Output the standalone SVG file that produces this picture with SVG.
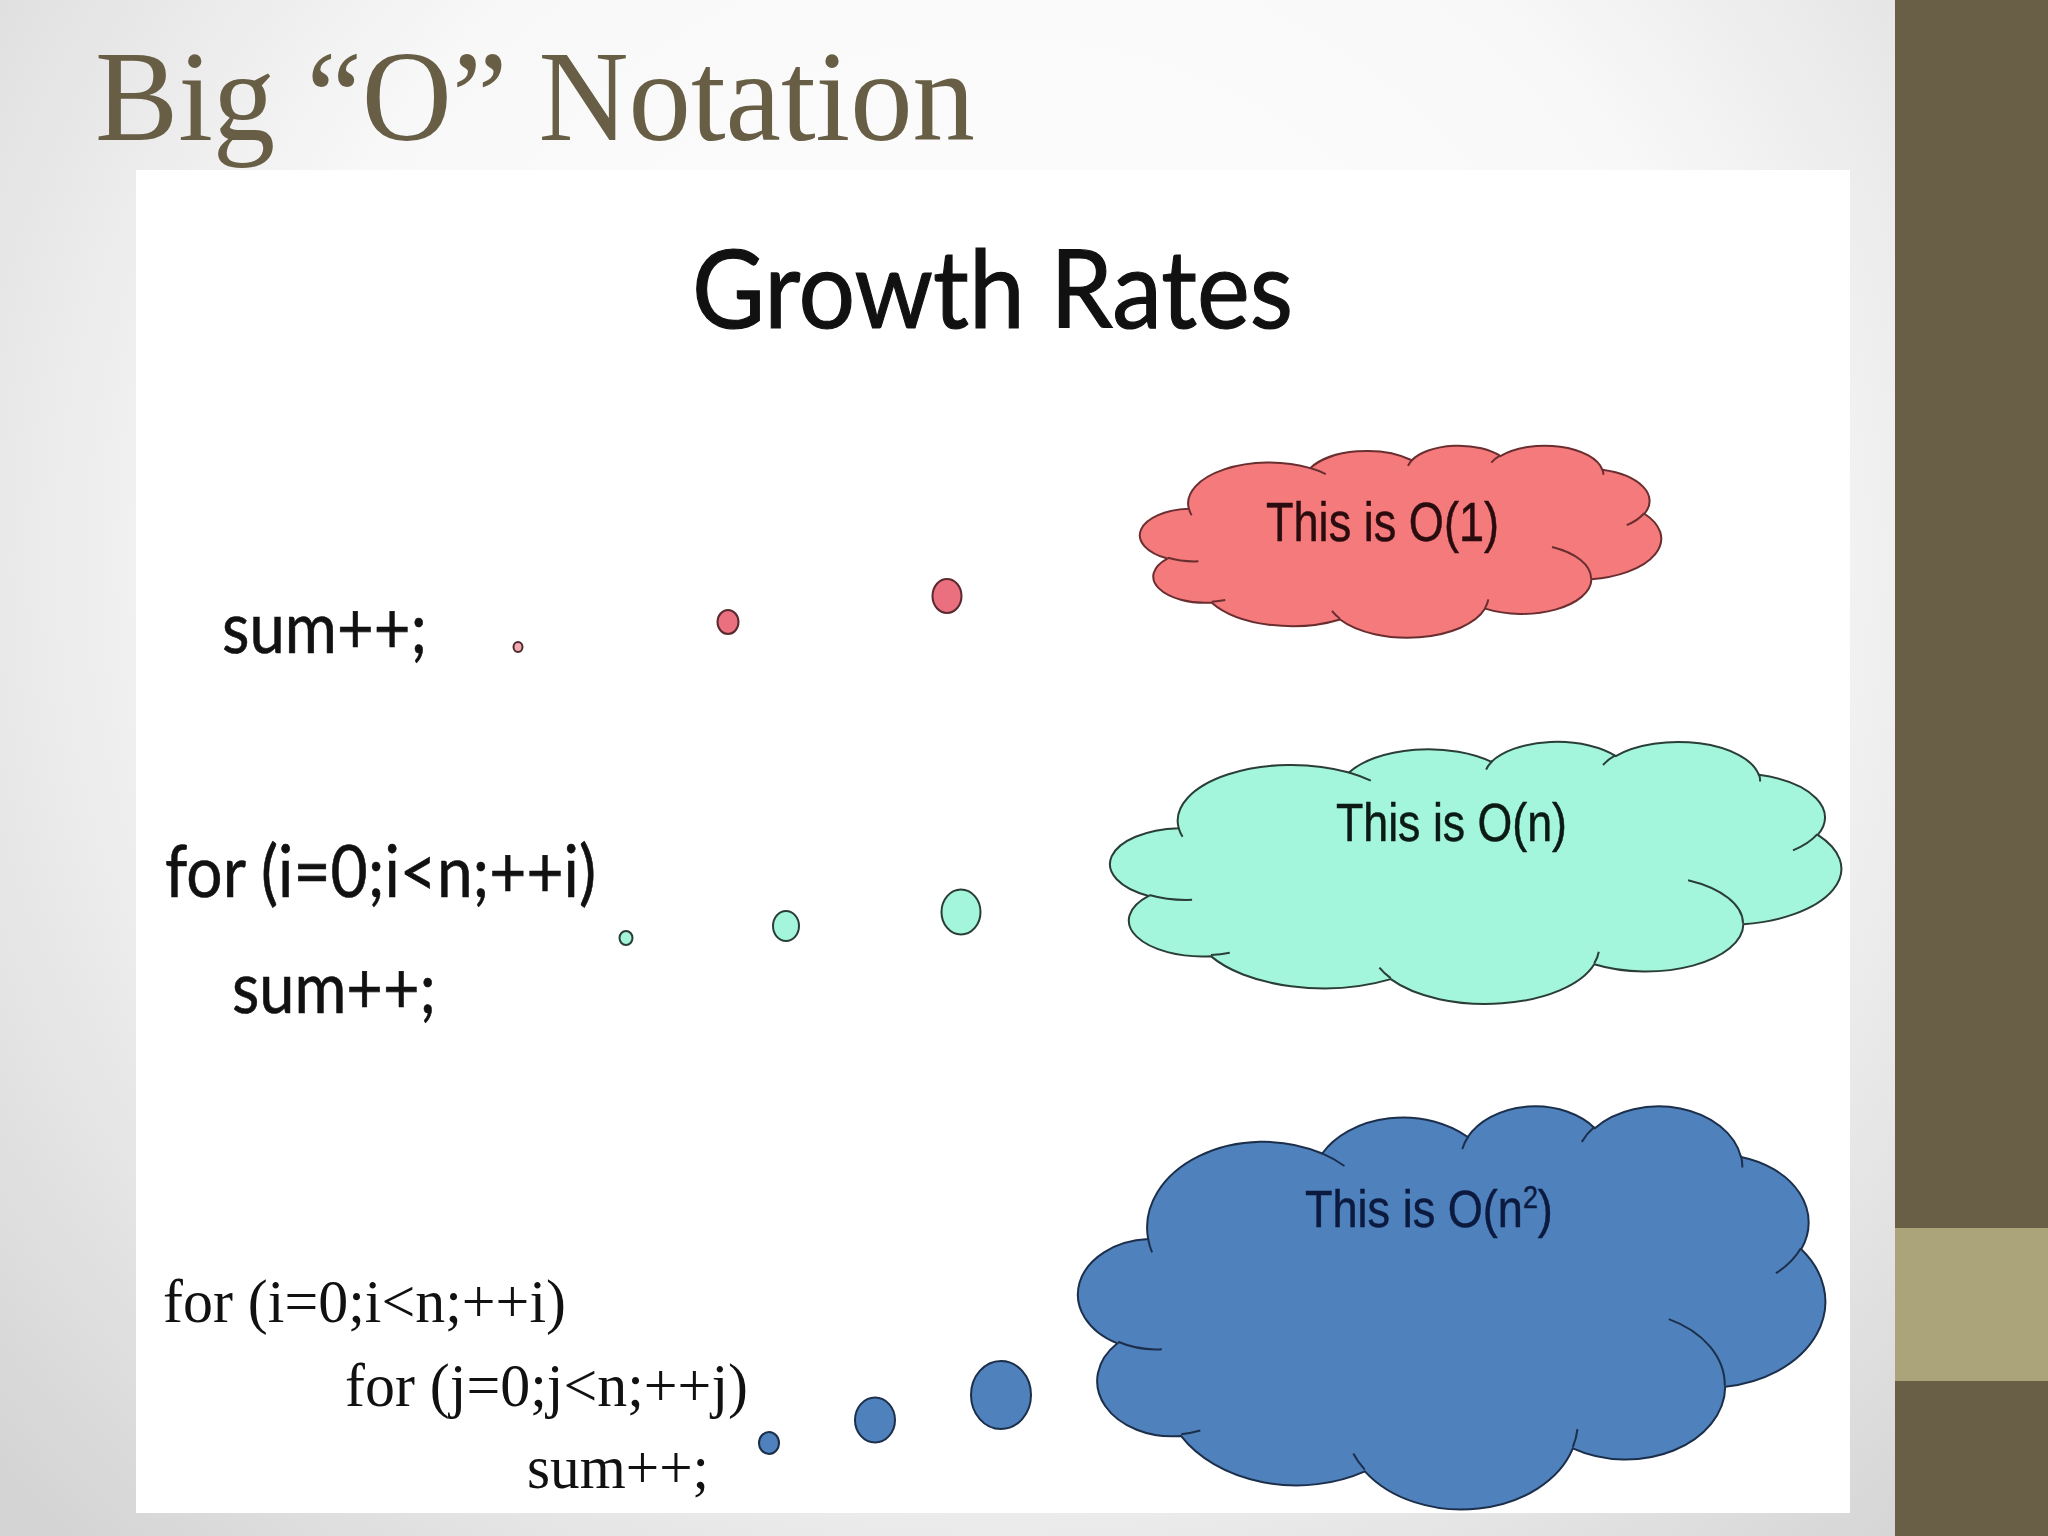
<svg xmlns="http://www.w3.org/2000/svg" xmlns:xlink="http://www.w3.org/1999/xlink" width="2048" height="1536" viewBox="0 0 2048 1536">
  <style>
    .title { font-family: "Liberation Serif", "Times New Roman", serif; font-size: 130px; fill: #675e45; }
    .heading { font-family: Lato, "Liberation Sans", sans-serif; font-size: 108px; fill: #111111; stroke: #111111; stroke-width: 1.2; }
    .code { font-family: Lato, "Liberation Sans", sans-serif; font-size: 72px; fill: #111111; stroke: #111111; stroke-width: 0.6; }
    .serifcode { font-family: "Liberation Serif", "Times New Roman", serif; font-size: 62px; fill: #111111; }
    .label { font-family: "Liberation Sans", Arial, sans-serif; }
    .outline { vector-effect: non-scaling-stroke; stroke-width: 2; }
    .inner { vector-effect: non-scaling-stroke; stroke-width: 2; fill: none; }
    .pink { fill: #f47a7c; stroke: #6a2e30; }
    .teal { fill: #a3f5db; stroke: #2a3d36; }
    .blue { fill: #4f81bd; stroke: #1c2f4a; }
    .dot { stroke-width: 2; }
    .pinkdot { fill: #ea6f7f; stroke: #5a2a30; }
  </style>
  <defs>
    <radialGradient id="bg" gradientUnits="userSpaceOnUse" cx="1000" cy="560" r="1350">
      <stop offset="0" stop-color="#ffffff"/>
      <stop offset="0.55" stop-color="#f8f8f8"/>
      <stop offset="1" stop-color="#d4d4d4"/>
    </radialGradient>
    <path id="cloudOutline" class="outline" d="M3900,14370 A6753,9190 0 0 1 14006,5203 A5333,7267 0 0 1 22458,3435 A4365,5945 0 0 1 29835,2484 A4857,6595 0 0 1 38321,5579 A5333,7273 0 0 1 41821,15463 A6775,9220 0 0 1 37407,30205 A5785,7867 0 0 1 28558,36815 A6752,9215 0 0 1 16483,39267 A7720,10543 0 0 1 5806,35471 A4360,5918 0 0 1 2116,25548 A4345,5945 0 0 1 3900,14370 Z"/>
    <path id="cloudInner" class="inner" d="M4693,26177 A4345,5945 0 0 1 2159,25380 M6928,34899 A4360,5918 0 0 1 5819,35281 M16478,39090 A6752,9215 0 0 1 15810,37349 M28827,34751 A6752,9215 0 0 1 28560,36660 M34129,22954 A5785,7867 0 0 1 37381,30090 M41798,15354 A5333,7273 0 0 1 40350,18030 M38324,5426 A4857,6595 0 0 1 38400,6690 M29078,3952 A4857,6595 0 0 1 29819,2341 M22141,4720 A4365,5945 0 0 1 22500,3330 M14000,5192 A6753,9190 0 0 1 15298,6539 M4127,15789 A6753,9190 0 0 1 3900,14370"/>
  </defs>

  <g id="background">
    <rect x="0" y="0" width="2048" height="1536" fill="url(#bg)"/>
    <rect x="1895" y="0" width="153" height="1536" fill="#695e46"/>
    <rect x="1895" y="1228" width="153" height="153" fill="#aba47b"/>
  </g>

  <g id="title">
    <text class="title" x="95" y="140" textLength="880" lengthAdjust="spacingAndGlyphs">Big “O” Notation</text>
  </g>

  <g id="panel">
    <rect x="136" y="170" width="1714" height="1343" fill="#ffffff"/>
    <text class="heading" x="692" y="328" textLength="601" lengthAdjust="spacingAndGlyphs">Growth Rates</text>
  </g>

  <g id="code-o1">
    <text class="code" x="222" y="653" textLength="205" lengthAdjust="spacingAndGlyphs">sum++;</text>
  </g>
  <g id="code-on">
    <text class="code" x="165" y="897" textLength="431" lengthAdjust="spacingAndGlyphs">for (i=0;i&lt;n;++i)</text>
    <text class="code" x="232" y="1013" textLength="204" lengthAdjust="spacingAndGlyphs">sum++;</text>
  </g>
  <g id="code-on2">
    <text class="serifcode" x="163" y="1322" textLength="403" lengthAdjust="spacingAndGlyphs">for (i=0;i&lt;n;++i)</text>
    <text class="serifcode" x="345" y="1406" textLength="403" lengthAdjust="spacingAndGlyphs">for (j=0;j&lt;n;++j)</text>
    <text class="serifcode" x="527" y="1488" textLength="182" lengthAdjust="spacingAndGlyphs">sum++;</text>
  </g>

  <g id="dots-o1">
    <ellipse class="dot" cx="518" cy="647" rx="4.5" ry="5" fill="#f2a9b2" stroke="#4a2a2e"/>
    <ellipse class="dot pinkdot" cx="728" cy="622" rx="10.5" ry="12"/>
    <ellipse class="dot pinkdot" cx="947" cy="596" rx="14.5" ry="17"/>
  </g>
  <g id="dots-on">
    <ellipse class="dot teal" cx="626" cy="938" rx="6.5" ry="7"/>
    <ellipse class="dot teal" cx="786" cy="926" rx="13" ry="15"/>
    <ellipse class="dot teal" cx="961" cy="912" rx="19.5" ry="22.5"/>
  </g>
  <g id="dots-on2">
    <ellipse class="dot blue" cx="769" cy="1443" rx="10" ry="11"/>
    <ellipse class="dot blue" cx="875" cy="1420" rx="20" ry="22.5"/>
    <ellipse class="dot blue" cx="1001" cy="1395" rx="30" ry="34"/>
  </g>

  <g id="cloud-o1">
    <g transform="translate(1142,445) scale(0.012014,0.004444)">
      <use xlink:href="#cloudOutline" href="#cloudOutline" class="pink"/>
      <use xlink:href="#cloudInner" href="#cloudInner" stroke="#6a2e30"/>
    </g>
    <text class="label" x="1266" y="541" font-size="56" fill="#2a0c0e" stroke="#2a0c0e" stroke-width="0.5" textLength="233" lengthAdjust="spacingAndGlyphs">This is O(1)</text>
  </g>

  <g id="cloud-on">
    <g transform="translate(1113,741) scale(0.016852,0.006065)">
      <use xlink:href="#cloudOutline" href="#cloudOutline" class="teal"/>
      <use xlink:href="#cloudInner" href="#cloudInner" stroke="#2a3d36"/>
    </g>
    <text class="label" x="1336" y="841" font-size="53" fill="#0c1a14" stroke="#0c1a14" stroke-width="0.5" textLength="231" lengthAdjust="spacingAndGlyphs">This is O(n)</text>
  </g>

  <g id="cloud-on2">
    <g transform="translate(1081,1105) scale(0.017222,0.009329)">
      <use xlink:href="#cloudOutline" href="#cloudOutline" class="blue"/>
      <use xlink:href="#cloudInner" href="#cloudInner" stroke="#1c2f4a"/>
    </g>
    <text class="label" x="0" y="0" font-size="52" fill="#0b1a3e" stroke="#0b1a3e" stroke-width="0.5" transform="translate(1305,1227) scale(0.867,1)">This is O(n<tspan font-size="31" dy="-19">2</tspan><tspan dy="19">)</tspan></text>
  </g>
</svg>
